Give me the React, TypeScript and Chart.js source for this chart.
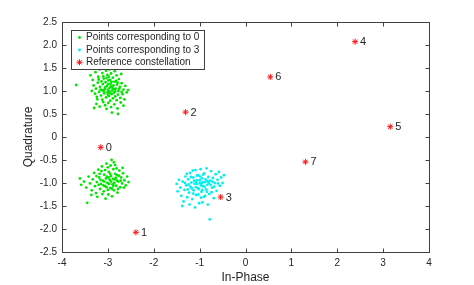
import React, { useEffect, useRef } from "react";
import { Chart, registerables } from "chart.js";

Chart.register(...registerables);

// Received samples that decode to symbol 0 (two clusters)
const pointsSym0: number[][] = [
  [-3.69, 1.13], [-3.38, 1.34], [-3.33, 1.24], [-3.27, 1.41], [-3.21, 1.31], [-3.18, 1.47], [-3.12, 1.39], [-3.09, 1.27],
  [-3.04, 1.44], [-3.01, 1.35], [-2.97, 1.47], [-2.93, 1.38], [-2.89, 1.29], [-2.85, 1.43], [-2.81, 1.34], [-2.76, 1.26],
  [-2.71, 1.37], [-3.31, 1.12], [-3.26, 1.05], [-3.22, 1.18], [-3.17, 1.09], [-3.14, 1.21], [-3.11, 1.15], [-3.07, 1.04],
  [-3.05, 1.19], [-3.02, 1.11], [-2.99, 1.23], [-2.96, 1.07], [-2.94, 1.16], [-2.91, 1.01], [-2.88, 1.12], [-2.86, 1.20],
  [-2.83, 1.05], [-2.80, 1.14], [-2.77, 1.00], [-2.74, 1.09], [-2.70, 1.17], [-2.66, 1.03], [-2.62, 1.11], [-2.59, 0.97],
  [-2.56, 1.02], [-3.28, 0.94], [-3.24, 0.87], [-3.19, 0.98], [-3.15, 0.90], [-3.12, 0.81], [-3.08, 0.95], [-3.04, 0.86],
  [-3.01, 0.97], [-2.98, 0.89], [-2.95, 0.79], [-2.92, 0.93], [-2.89, 0.84], [-2.87, 0.96], [-2.84, 0.88], [-2.81, 0.80],
  [-2.78, 0.92], [-2.73, 0.85], [-2.68, 0.93], [-2.64, 0.82], [-3.25, 0.72], [-3.18, 0.66], [-3.10, 0.76], [-3.06, 0.69],
  [-2.99, 0.74], [-2.93, 0.65], [-2.86, 0.71], [-2.79, 0.62], [-2.72, 0.75], [-3.30, 0.63], [-3.03, 0.61], [-2.91, 0.53],
  [-2.78, 0.50], [-2.66, 0.68], [-3.13, 1.02], [-3.00, 1.03], [-2.97, 0.99], [-2.90, 1.07], [-2.93, 1.10], [-3.06, 1.08],
  [-2.99, 1.15], [-2.84, 0.99], [-3.09, 0.99], [-2.95, 1.24], [-3.03, 1.28], [-2.92, 1.20], [-2.82, 1.22], [-3.16, 1.03],
  [-2.87, 1.04], [-3.00, 0.92], [-2.96, 0.96], [-2.75, 1.05], [-3.20, 1.25], [-2.79, 1.18], [-3.10, 1.32], [-2.98, 1.31],
  [-3.23, 0.82], [-2.70, 0.98], [-3.35, 1.00],
  [-3.61, -0.90], [-3.58, -1.04], [-3.52, -0.97], [-3.47, -1.10], [-3.45, -1.43], [-3.42, -0.86], [-3.39, -1.01], [-3.35, -1.16],
  [-3.33, -0.92], [-3.30, -0.78], [-3.28, -1.07], [-3.26, -1.22], [-3.24, -0.98], [-3.21, -0.71], [-3.19, -0.88], [-3.17, -1.13],
  [-3.15, -1.02], [-3.13, -0.64], [-3.11, -0.95], [-3.09, -1.18], [-3.08, -0.82], [-3.06, -1.07], [-3.04, -0.90], [-3.03, -0.58],
  [-3.01, -1.00], [-2.99, -1.25], [-2.98, -0.76], [-2.96, -0.93], [-2.95, -1.11], [-2.93, -0.85], [-2.92, -0.50], [-2.90, -1.03],
  [-2.88, -0.70], [-2.87, -1.16], [-2.85, -0.92], [-2.84, -0.61], [-2.82, -1.06], [-2.80, -0.83], [-2.79, -1.21], [-2.77, -0.97],
  [-2.75, -0.73], [-2.73, -1.09], [-2.71, -0.88], [-2.69, -1.01], [-2.67, -0.79], [-2.64, -0.94], [-2.61, -1.05], [-2.58, -0.86],
  [-2.55, -0.98], [-3.23, -1.30], [-3.05, -1.34], [-2.91, -1.29], [-3.36, -1.26], [-3.12, -1.24], [-3.14, -0.74], [-3.00, -0.66],
  [-2.87, -0.55], [-2.94, -0.62], [-2.81, -0.68], [-2.68, -0.67], [-3.06, -0.72], [-3.02, -0.86], [-2.97, -1.02], [-2.93, -0.97],
  [-2.89, -0.91], [-3.08, -0.97], [-2.86, -1.00], [-3.03, -1.09], [-2.98, -0.88], [-2.91, -1.12], [-2.84, -0.80], [-3.10, -1.05],
  [-2.95, -0.80], [-2.80, -0.95], [-3.16, -0.93], [-2.78, -1.13], [-3.00, -1.15], [-2.88, -1.06], [-3.20, -1.04], [-2.83, -0.89],
  [-2.72, -0.95], [-3.25, -0.85], [-2.76, -0.84], [-3.18, -0.80], [-2.65, -1.10],
];

// Received samples that decode to symbol 3
const pointsSym3: number[][] = [
  [-1.50, -1.02], [-1.48, -1.18], [-1.45, -0.93], [-1.42, -1.10], [-1.40, -1.28], [-1.37, -0.97], [-1.35, -1.40], [-1.33, -1.15],
  [-1.31, -0.86], [-1.29, -1.05], [-1.27, -1.31], [-1.25, -0.92], [-1.23, -1.21], [-1.21, -0.78], [-1.20, -1.08], [-1.18, -0.99],
  [-1.16, -1.35], [-1.14, -0.88], [-1.13, -1.16], [-1.11, -1.02], [-1.09, -0.72], [-1.08, -1.26], [-1.06, -0.94], [-1.04, -1.11],
  [-1.03, -0.83], [-1.01, -1.44], [-0.99, -1.00], [-0.98, -0.70], [-0.96, -1.19], [-0.95, -0.90], [-0.93, -1.07], [-0.91, -1.30],
  [-0.90, -0.79], [-0.88, -0.98], [-0.86, -1.14], [-0.85, -0.68], [-0.83, -1.04], [-0.81, -0.87], [-0.79, -1.24], [-0.78, -1.79],
  [-0.77, -0.95], [-0.75, -0.74], [-0.73, -1.10], [-0.71, -0.89], [-0.69, -1.33], [-0.67, -1.00], [-0.65, -0.81], [-0.63, -1.17],
  [-0.61, -0.93], [-0.58, -0.76], [-0.56, -1.06], [-0.53, -0.88], [-0.50, -1.00], [-0.47, -0.83], [-1.38, -1.50], [-1.22, -1.47],
  [-1.10, -1.53], [-0.94, -1.42], [-0.82, -1.47], [-1.28, -0.80], [-1.15, -0.73], [-1.05, -1.02], [-0.97, -1.05], [-1.00, -0.94],
  [-0.92, -0.98], [-1.08, -1.09], [-0.89, -1.08], [-1.02, -1.13], [-0.94, -1.15], [-1.12, -0.95], [-0.87, -0.92], [-1.17, -1.12],
  [-0.84, -1.19], [-0.99, -0.86], [-1.06, -0.84], [-0.80, -1.00], [-1.24, -1.03], [-0.76, -1.04], [-1.19, -0.87], [-0.72, -0.97],
  [-1.26, -1.14], [-0.92, -0.82], [-1.03, -1.25], [-0.88, -1.28], [-1.14, -1.23], [-0.97, -1.32], [-0.74, -1.20], [-1.32, -1.00],
  [-0.68, -1.08], [-0.60, -1.01], [-1.08, -0.98], [-0.95, -1.00], [-0.83, -0.96],
];

// 8-QAM reference constellation (rotated by pi/8) and symbol labels
const refI = [-3.155, -2.389, -1.306, -0.541, 2.389, 3.155, 0.541, 1.306];
const refQ = [-0.224, -2.072, 0.541, -1.306, 2.072, 0.224, 1.306, -0.541];
const refLabels = ["0", "1", "2", "3", "4", "5", "6", "7"];

const legendLabels = ["Points corresponding to 0", "Points corresponding to 3", "Reference constellation"];
const xTitle = "In-Phase";
const yTitle = "Quadrature";

const FONT = '"Liberation Sans", Arial, sans-serif';
const INK = "#262626";
const FRAME = "#404040";
const GREEN = "#00e600";
const CYAN = "#00f0f0";
const RED = "#ff1010";

const toXY = (arr: number[][]) => arr.map(([x, y]) => ({ x, y }));

function drawStar(ctx: CanvasRenderingContext2D, x: number, y: number, r: number) {
  ctx.beginPath();
  ctx.moveTo(x - r, y); ctx.lineTo(x + r, y);
  ctx.moveTo(x, y - r); ctx.lineTo(x, y + r);
  const d = r * 0.7071;
  ctx.moveTo(x - d, y - d); ctx.lineTo(x + d, y + d);
  ctx.moveTo(x - d, y + d); ctx.lineTo(x + d, y - d);
  ctx.stroke();
}

const decorations = {
  id: "decorations",
  afterDraw(chart: any) {
    const { ctx, chartArea: a, scales } = chart;
    const xs = scales.x, ys = scales.y;
    const L = Math.round(a.left) + 0.5, R = Math.round(a.right) + 0.5;
    const T = Math.round(a.top) + 0.5, B = Math.round(a.bottom) + 0.5;
    ctx.save();

    // symbol labels next to reference points
    ctx.fillStyle = INK;
    ctx.font = `11px ${FONT}`;
    ctx.textBaseline = "middle";
    ctx.textAlign = "left";
    refI.forEach((v, i) => {
      ctx.fillText(refLabels[i], xs.getPixelForValue(v) + 5, ys.getPixelForValue(refQ[i]) + 0.5);
    });

    // axes box with inward ticks
    ctx.strokeStyle = FRAME;
    ctx.lineWidth = 1;
    ctx.strokeRect(L, T, R - L, B - T);
    const tl = 4;
    ctx.beginPath();
    xs.ticks.forEach((t: any) => {
      const px = Math.round(xs.getPixelForValue(t.value)) + 0.5;
      ctx.moveTo(px, B); ctx.lineTo(px, B - tl);
      ctx.moveTo(px, T); ctx.lineTo(px, T + tl);
    });
    ys.ticks.forEach((t: any) => {
      const py = Math.round(ys.getPixelForValue(t.value)) + 0.5;
      ctx.moveTo(L, py); ctx.lineTo(L + tl, py);
      ctx.moveTo(R, py); ctx.lineTo(R - tl, py);
    });
    ctx.stroke();

    // axis titles
    ctx.fillStyle = INK;
    ctx.font = `12px ${FONT}`;
    ctx.textAlign = "center";
    ctx.textBaseline = "middle";
    ctx.fillText(xTitle, (a.left + a.right) / 2, 277.5);
    ctx.save();
    ctx.translate(28.5, (a.top + a.bottom) / 2);
    ctx.rotate(-Math.PI / 2);
    ctx.fillText(yTitle, 0, 0);
    ctx.restore();

    // legend box
    const lx = 71.5, ly = 30.5, lw = 133, lh = 39;
    ctx.fillStyle = "#ffffff";
    ctx.fillRect(lx, ly, lw, lh);
    ctx.strokeStyle = FRAME;
    ctx.strokeRect(lx, ly, lw, lh);
    const rows = [37.5, 50, 62.3];
    ctx.fillStyle = GREEN;
    ctx.beginPath(); ctx.arc(79.5, rows[0], 1.4, 0, Math.PI * 2); ctx.fill();
    ctx.fillStyle = CYAN;
    ctx.beginPath(); ctx.arc(79.5, rows[1], 1.4, 0, Math.PI * 2); ctx.fill();
    ctx.strokeStyle = RED;
    ctx.lineWidth = 1;
    drawStar(ctx, 79.5, rows[2], 3);
    ctx.fillStyle = INK;
    ctx.font = `10px ${FONT}`;
    ctx.textAlign = "left";
    legendLabels.forEach((s, i) => ctx.fillText(s, 86, rows[i]));
    ctx.restore();
  },
};

export default function App() {
  const ref = useRef<HTMLCanvasElement | null>(null);
  useEffect(() => {
    if (!ref.current) return;
    const tickFont = { family: FONT, size: 10 };
    const chart = new Chart(ref.current, {
      type: "scatter",
      data: {
        datasets: [
          {
            label: legendLabels[2],
            data: refI.map((x, i) => ({ x, y: refQ[i] })),
            pointStyle: "star",
            pointRadius: 3,
            borderColor: RED,
            backgroundColor: RED,
            borderWidth: 1,
          },
          {
            label: legendLabels[1],
            data: toXY(pointsSym3),
            pointRadius: 1.4,
            pointBorderWidth: 0,
            backgroundColor: CYAN,
            borderColor: CYAN,
          },
          {
            label: legendLabels[0],
            data: toXY(pointsSym0),
            pointRadius: 1.4,
            pointBorderWidth: 0,
            backgroundColor: GREEN,
            borderColor: GREEN,
          },
        ],
      },
      options: {
        responsive: false,
        animation: false,
        events: [],
        layout: { padding: { top: 22, right: 45, left: 0, bottom: 0 } },
        plugins: { legend: { display: false }, tooltip: { enabled: false }, title: { display: false } },
        scales: {
          x: {
            type: "linear",
            min: -4,
            max: 4,
            ticks: { stepSize: 1, color: INK, font: tickFont, padding: 5, maxRotation: 0 },
            grid: { display: false, drawTicks: false, tickLength: 0 },
            border: { display: false },
            afterFit: (s: any) => { s.height = 33; },
          },
          y: {
            type: "linear",
            min: -2.5,
            max: 2.5,
            ticks: { stepSize: 0.5, color: INK, font: tickFont, padding: 5 },
            grid: { display: false, drawTicks: false, tickLength: 0 },
            border: { display: false },
            afterFit: (s: any) => { s.width = 62; },
          },
        },
      },
      plugins: [decorations],
    });
    return () => chart.destroy();
  }, []);
  return (
    <div style={{ position: "fixed", left: 0, top: 0, width: 474, height: 285, background: "#fff" }}>
      <canvas ref={ref} width={474} height={285} />
    </div>
  );
}
